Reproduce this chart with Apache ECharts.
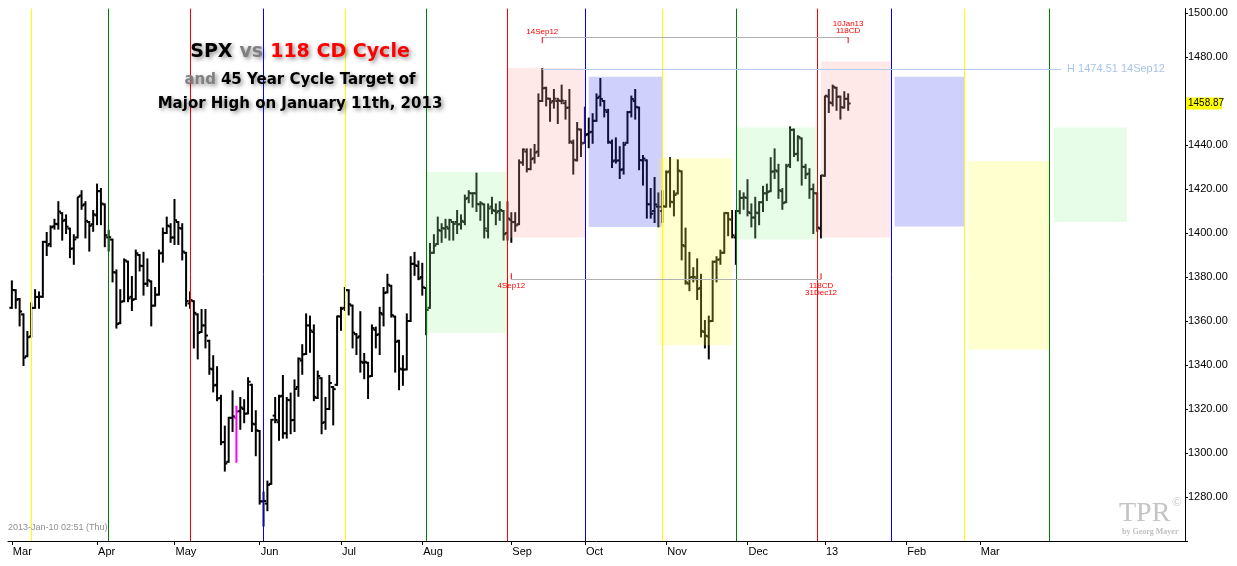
<!DOCTYPE html>
<html><head><meta charset="utf-8">
<script src="https://cdn.jsdelivr.net/npm/echarts@6/dist/echarts.min.js"></script>
<style>html,body{margin:0;padding:0;background:#fff}#c{width:1237px;height:566px}</style>
</head><body><div id="c"></div>
<script>
// trading-day index 0 = 1 Mar 2012
const opens=[1366,1374,1370,1363,1344,1353,1366,1371,1371,1396,1395,1403,1404,1409,1406,1402,1393,1398,1417,1413,1405,1404,
1408,1419,1413,1398,1397,1382,1359,1369,1387,1371,1370,1390,1385,1377,1378,1367,1372,1391,1400,1403,
1398,1405,1402,1391,1368,1369,1363,1355,1358,1351,1338,1331,1325,1305,1296,1316,1316,1319,1320,1318,1331,1313,
1310,1278,1277,1286,1317,1314,1326,1309,1324,1315,1330,1342,1345,1358,1355,1325,1334,1314,1320,1330,1331,
1362,1366,1374,1367,1354,1353,1341,1341,1335,1356,1354,1363,1373,1376,1362,1351,1338,1338,1360,1386,1385,
1380,1375,1366,1391,1395,1401,1402,1402,1405,1405,1404,1405,1416,1418,1418,1413,1413,1401,1412,1410,1410,1410,1400,
1406,1405,1404,1432,1437,1429,1434,1437,1460,1466,1461,1460,1460,1460,1459,1457,1441,1433,1447,
1441,1445,1446,1451,1462,1460,1455,1441,1433,1433,1429,1441,1455,1460,1457,1433,1433,1413,1410,1412,1410,
1412,1428,1414,1418,1428,1394,1377,1380,1379,1375,1355,1353,1360,1387,1388,1391,1409,1406,1398,1410,1416,
1416,1409,1407,1409,1414,1418,1419,1428,1428,1419,1414,1431,1447,1436,1443,1430,1427,1420,1418,1402,
1426,1462,1459,1466,1462,1457,1461];
const highs=[1378,1374,1370,1363,1355,1368,1374,1373,1396,1400,1403,1406,1414,1409,1408,1402,1399,1416,1419,1414,1405,1410,
1422,1420,1413,1401,1397,1383,1374,1388,1387,1380,1392,1390,1391,1388,1378,1375,1392,1402,1407,1404,
1415,1405,1404,1391,1373,1369,1363,1365,1365,1351,1344,1339,1326,1312,1316,1328,1321,1325,1324,1334,1331,1319,
1310,1282,1287,1315,1325,1326,1335,1325,1327,1333,1343,1349,1363,1362,1358,1337,1334,1325,1335,1330,1362,
1366,1375,1374,1367,1354,1364,1345,1341,1358,1357,1366,1375,1381,1376,1362,1351,1344,1363,1389,1391,1387,
1386,1375,1395,1399,1407,1404,1406,1406,1405,1410,1408,1417,1419,1418,1427,1414,1413,1413,1416,1413,1414,1410,1414,
1409,1409,1433,1438,1438,1438,1440,1463,1474.51,1466,1461,1465,1461,1467,1460,1465,1442,1450,1447,
1457,1452,1454,1463,1470,1460,1456,1442,1443,1439,1441,1455,1462,1465,1457,1435,1433,1420,1425,1418,1419,
1428,1434,1419,1433,1428,1402,1391,1384,1388,1381,1360,1362,1387,1389,1392,1409,1409,1410,1410,1419,1418,
1424,1413,1416,1414,1421,1422,1434,1438,1431,1420,1431,1448,1447,1444,1443,1431,1429,1422,1418,1426,
1462,1465,1467,1466,1462,1464,1463];
const lows=[1366,1366,1358,1340,1344,1353,1366,1366,1371,1390,1394,1402,1402,1397,1400,1389,1386,1398,1411,1398,1392,1401,
1404,1404,1394,1392,1378,1357,1359,1369,1369,1365,1370,1383,1372,1376,1358,1367,1372,1387,1400,1396,
1395,1395,1388,1367,1366,1348,1343,1355,1348,1336,1328,1324,1304,1292,1296,1310,1296,1311,1314,1318,1310,1299,
1277,1267,1274,1286,1314,1306,1307,1307,1309,1310,1326,1336,1345,1346,1324,1325,1309,1311,1320,1313,1331,
1356,1365,1363,1348,1345,1337,1334,1325,1335,1348,1345,1358,1373,1362,1337,1329,1331,1338,1360,1381,1379,
1372,1354,1366,1391,1395,1396,1398,1397,1397,1400,1402,1404,1414,1412,1410,1406,1398,1398,1409,1404,1406,1397,1397,
1396,1401,1404,1431,1428,1429,1432,1435,1460,1458,1451,1457,1450,1459,1452,1441,1427,1433,1435,
1441,1439,1441,1451,1458,1453,1441,1430,1432,1425,1427,1441,1453,1452,1429,1422,1407,1407,1405,1403,1405,
1412,1412,1408,1418,1388,1377,1374,1378,1370,1353,1348,1343,1360,1378,1386,1391,1399,1398,1386,1409,1411,
1408,1403,1398,1404,1410,1415,1419,1425,1416,1411,1414,1430,1435,1433,1422,1425,1416,1400,1401,1398,
1426,1455,1458,1456,1452,1457,1456];
const closes=[1374.09,1369.63,1364.33,1343.36,1352.63,1365.91,1370.87,1371.09,1395.95,1394.28,1402.60,1404.17,1409.75,1405.52,1402.89,1392.78,1397.11,1416.51,1412.52,1405.54,1403.28,1408.47,
1419.04,1413.38,1398.96,1398.08,1382.20,1358.59,1368.71,1387.57,1370.26,1369.57,1390.78,1385.14,1376.92,1378.53,1366.94,1371.97,1390.69,1399.98,1403.36,1397.91,
1405.82,1402.31,1391.57,1369.10,1369.58,1363.72,1354.58,1357.99,1353.39,1338.35,1330.66,1324.80,1304.86,1295.22,1315.99,1316.63,1318.86,1320.68,1317.82,1332.42,1313.32,1310.33,
1278.04,1278.18,1285.50,1315.13,1314.99,1325.66,1308.93,1324.18,1314.88,1329.10,1342.84,1344.78,1357.98,1355.69,1325.51,1335.02,1313.72,1319.99,1331.85,1329.04,1362.16,
1365.51,1374.02,1367.58,1354.68,1352.46,1341.47,1341.45,1334.76,1356.78,1353.64,1363.67,1372.78,1376.51,1362.66,1350.52,1338.31,1337.89,1360.02,1385.97,1385.30,1379.32,
1375.32,1365.00,1390.99,1394.23,1401.35,1402.22,1402.80,1405.87,1404.11,1403.93,1405.53,1415.51,1418.16,1418.13,1413.17,1413.49,1402.08,1411.13,1410.44,1409.30,1410.49,1399.48,1406.58,
1404.94,1403.44,1432.12,1437.92,1429.08,1433.56,1436.56,1459.99,1465.77,1461.19,1459.32,1461.05,1460.26,1460.15,1456.89,1441.59,1433.32,1447.15,1440.67,
1444.49,1445.75,1450.99,1461.40,1460.93,1455.88,1441.48,1432.56,1432.84,1428.59,1440.13,1454.92,1460.91,1457.34,1433.19,1433.82,1413.11,1408.75,1412.97,1411.94,1412.16,
1427.59,1414.20,1417.26,1428.39,1394.53,1377.51,1379.85,1380.03,1374.53,1355.49,1353.33,1359.88,1386.89,1387.81,1391.03,1409.15,1406.29,1398.94,1409.93,1415.95,1416.18,
1409.46,1407.05,1409.28,1413.94,1418.07,1418.55,1427.84,1428.48,1419.45,1413.58,1430.36,1446.79,1435.81,1443.69,1430.15,1426.66,1419.83,1418.10,1402.43,1426.19,
1462.42,1459.37,1466.47,1461.89,1457.15,1461.02,1458.87];
const highlightDay=58;
const monthTicks={0:'Mar',22:'Apr',42:'May',64:'Jun',85:'Jul',106:'Aug',129:'Sep',148:'Oct',169:'Nov',190:'Dec',210:'13',231:'Feb',250:'Mar'};
const cycleLines=[4.7,24.8,45.7,64.9,85.8,107,128,148,168,187,208,227,246,268];
const cycleColors=['#ffff00','#008000','#ff0000','#0000ff'];
const boxStart=[107,128.4,148.6,167.2,187.3,208.5,227.6,246.8,268.7];
const boxEnd=[127.6,148.3,168,185.8,207.8,226.9,246.3,268.2,288.4];
const boxTop=[1427.7,1475,1471,1434,1448,1478,1471,1432.7,1448];
const boxBottom=[1354.5,1398,1402.7,1349,1397,1398,1403,1347,1405];
const boxKind=['g','r','b','y','g','r','b','y','g'];
const yTicks={min:1260,max:1502,interval:20};
const hiddenYLabels=[1260,1460];
const lastPrice=1458.87, highValue=1474.51;

const boxFill={g:'rgba(164,248,164,0.25)',r:'rgba(255,164,164,0.25)',b:'rgba(68,68,244,0.25)',y:'rgba(255,255,68,0.25)'};
const N=305; // categories for day -1 .. 303
const cats=[];for(let j=0;j<N;j++)cats.push('k'+j);
const X=i=>i+1;
const barData=closes.map((c,i)=>[X(i),opens[i],highs[i],lows[i],c]);
const boxData=boxStart.map((s,k)=>[X(s),X(boxEnd[k]),boxTop[k],boxBottom[k],k]);

const chart=echarts.init(document.getElementById('c'));
chart.setOption({
 animation:false,
 grid:{left:8,right:52,top:8.6,bottom:25},
 xAxis:{type:'category',data:cats,boundaryGap:false,
  axisLine:{lineStyle:{color:'#000'}},
  axisTick:{interval:(idx)=>monthTicks[idx-1]!==undefined,length:4,lineStyle:{color:'#000'}},
  axisLabel:{interval:(idx)=>monthTicks[idx-1]!==undefined,formatter:(v,idx)=>monthTicks[idx-1]||'',align:'left',
    color:'#000',fontSize:11,fontFamily:'Liberation Sans',margin:5,padding:[0,0,0,1]},
  splitLine:{show:false}},
 yAxis:{type:'value',position:'right',min:yTicks.min,max:yTicks.max,interval:yTicks.interval,
  axisLine:{show:true,lineStyle:{color:'#000'}},axisTick:{show:true,length:3,inside:false,lineStyle:{color:'#000'}},
  axisLabel:{formatter:v=>hiddenYLabels.includes(v)?'':v.toFixed(2),color:'#000',fontSize:11,fontFamily:'Liberation Sans',margin:3},
  splitLine:{show:false}},
 series:[
  {type:'custom',z:2,data:barData,
   renderItem:(p,api)=>{
     const x=api.value(0),o=api.value(1),h=api.value(2),l=api.value(3),c=api.value(4);
     const ph=api.coord([x,h]),pl=api.coord([x,l]),po=api.coord([x,o]),pc=api.coord([x,c]);
     const col=(x-1)===highlightDay?'#ff00ff':'#000';
     const st={stroke:col,lineWidth:2};
     return {type:'group',children:[
       {type:'line',shape:{x1:ph[0],y1:ph[1]-1,x2:pl[0],y2:pl[1]+1},style:st},
       {type:'line',shape:{x1:po[0]-2.5,y1:po[1],x2:po[0],y2:po[1]},style:st},
       {type:'line',shape:{x1:pc[0],y1:pc[1],x2:pc[0]+2.5,y2:pc[1]},style:st}]};
   },
   markLine:{silent:true,symbol:'none',label:{show:false},animation:false,
     data:cycleLines.map((v,k)=>({xAxis:X(v),lineStyle:{color:cycleColors[k%4],type:'solid',width:1}}))}
  },
  {type:'custom',z:3,data:boxData,
   renderItem:(p,api)=>{
     const a=api.coord([api.value(0),api.value(2)]),b=api.coord([api.value(1),api.value(3)]);
     return {type:'rect',shape:{x:a[0],y:a[1],width:b[0]-a[0],height:b[1]-a[1]},style:{fill:boxFill[boxKind[api.value(4)]]}};
   }},
  {type:'line',data:[],z:4,
   markLine:{silent:true,symbol:'none',animation:false,label:{show:false},
    data:[
     [{coord:[X(137),1489],lineStyle:{color:'#b0b0b0',width:1,type:'solid'}},{coord:[X(216),1489]}],
     [{coord:[X(129),1379],lineStyle:{color:'#b0b0b0',width:1,type:'solid'}},{coord:[X(209),1379]}],
     [{coord:[X(137),highValue],lineStyle:{color:'#b4cdf0',width:1,type:'solid'}},{coord:[X(271.3),highValue]}]
    ]}
  }
 ]
});

// annotations placed via the chart's own scales
const px=(i,v)=>chart.convertToPixel({gridIndex:0},[X(i),v]);
const red='#ff0000', F='Liberation Sans';
const g=[];
function tick(i,v,up){const p=px(i,v);g.push({type:'line',shape:{x1:p[0],y1:p[1],x2:p[0],y2:p[1]+(up?-6:6)},style:{stroke:red,lineWidth:1},z:10});}
function txt(i,v,t,dy){const p=px(i,v);g.push({type:'text',x:p[0],y:p[1]+dy,style:{text:t,fill:red,font:'8px '+F,align:'center',verticalAlign:'middle'},z:10});}
tick(137,1489,false);tick(216,1489,false);tick(129,1379,true);tick(209,1379,true);
txt(137,1489,'14Sep12',-5);txt(216,1489,'10Jan13',-13);txt(216,1489,'118CD',-6);
txt(129,1379,'4Sep12',7);txt(209,1379,'118CD',7);txt(209,1379,'31Dec12',14);
const hp=px(271.3,highValue);
g.push({type:'text',x:hp[0]+6,y:hp[1],z:10,style:{text:'H 1474.51 14Sep12',fill:'#a8c4ec',font:'11px '+F,verticalAlign:'middle'}});
const lp=px(0,lastPrice);
g.push({type:'rect',shape:{x:1186,y:lp[1]-6,width:36,height:12},style:{fill:'#ffff00'},z:10});
g.push({type:'text',x:1188,y:lp[1],style:{text:lastPrice.toFixed(2),fill:'#000',font:'10px '+F,verticalAlign:'middle'},z:11});
const sh={textShadowColor:'rgba(0,0,0,0.45)',textShadowBlur:4,textShadowOffsetX:2,textShadowOffsetY:2};
const f1='bold 19px "DejaVu Sans"', f2='bold 15px "DejaVu Sans"';
g.push({type:'text',x:300,y:52,z:12,style:{text:'{a|SPX}{b|vs}{c|118 CD Cycle}',align:'center',verticalAlign:'middle',
  rich:{a:Object.assign({fill:'#000',font:f1},sh),b:Object.assign({fill:'#808080',font:f1,padding:[0,7,0,7]},sh),c:Object.assign({fill:'#ff0000',font:f1},sh)}}});
g.push({type:'text',x:300,y:80,z:12,style:{text:'{b|and}{a|45 Year Cycle Target of}',align:'center',verticalAlign:'middle',
  rich:{a:Object.assign({fill:'#000',font:f2},sh),b:Object.assign({fill:'#808080',font:f2,padding:[0,5,0,0]},sh)}}});
g.push({type:'text',x:300,y:104,z:12,style:Object.assign({text:'Major High on January 11th, 2013',fill:'#000',font:f2,align:'center',verticalAlign:'middle'},sh)});
g.push({type:'text',x:8,y:528,z:12,style:{text:'2013-Jan-10 02:51 (Thu)',fill:'#909090',font:'9px '+F,verticalAlign:'middle'}});
g.push({type:'text',x:1119,y:514,z:12,style:{text:'TPR',fill:'#c4c4c4',font:'28px "Liberation Serif"',verticalAlign:'middle'}});
g.push({type:'text',x:1172,y:503,z:12,style:{text:'©',fill:'#c4c4c4',font:'13px "Liberation Serif"',verticalAlign:'middle'}});
g.push({type:'text',x:1122,y:532,z:12,style:{text:'by Georg Mayer',fill:'#c0c0c0',font:'bold 8px "Liberation Serif"',verticalAlign:'middle'}});
chart.setOption({graphic:g});
</script></body></html>
